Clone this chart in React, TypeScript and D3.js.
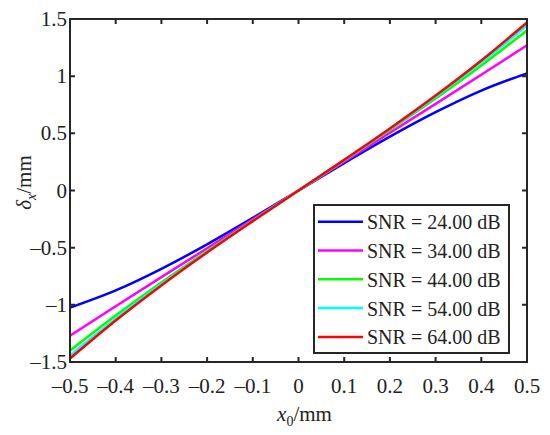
import * as d3 from "d3";
import React, { useEffect, useRef } from "react";

const width = 550;
const height = 435;
const margin = { top: 19, right: 23, bottom: 73, left: 70 };

const xValues = [-0.5, -0.4, -0.3, -0.2, -0.1, 0, 0.1, 0.2, 0.3, 0.4, 0.5];
const snr24 = [-1.025, -0.874, -0.685, -0.471, -0.24, 0, 0.24, 0.471, 0.685, 0.874, 1.025];
const snr34 = [-1.27, -1.013, -0.758, -0.505, -0.252, 0, 0.252, 0.505, 0.758, 1.013, 1.27];
const snr44 = [-1.4, -1.094, -0.805, -0.53, -0.263, 0, 0.263, 0.53, 0.805, 1.094, 1.4];
const snr54 = [-1.445, -1.121, -0.821, -0.538, -0.266, 0, 0.266, 0.538, 0.821, 1.121, 1.445];
const snr64 = [-1.47, -1.137, -0.83, -0.542, -0.268, 0, 0.268, 0.542, 0.83, 1.137, 1.47];

const seriesNames = ["SNR = 24.00 dB", "SNR = 34.00 dB", "SNR = 44.00 dB", "SNR = 54.00 dB", "SNR = 64.00 dB"];
const seriesValues = [snr24, snr34, snr44, snr54, snr64];
const seriesColors = ["#0000ff", "#ff00ff", "#00ff00", "#00ffff", "#ff0000"];

const xTicks = [-0.5, -0.4, -0.3, -0.2, -0.1, 0, 0.1, 0.2, 0.3, 0.4, 0.5];
const yTicks = [-1.5, -1, -0.5, 0, 0.5, 1, 1.5];

const font = "'Palatino Linotype', 'Book Antiqua', Palatino, 'Liberation Serif', serif";
const axisColor = "#262626";

const fmt = (v: number) => {
    const s = String(Math.abs(Math.round(v * 10) / 10));
    return v < 0 ? "\u2013" + s : s;
};

const App: React.FC = () => {
    const wrapper = useRef<SVGSVGElement>(null);

    useEffect(() => {
        if (!wrapper.current) return;
        const svg = d3.select(wrapper.current);
        svg.selectAll("*").remove();

        const x = d3.scaleLinear().domain([-0.5, 0.5]).range([margin.left, width - margin.right]);
        const y = d3.scaleLinear().domain([-1.5, 1.5]).range([height - margin.bottom, margin.top]);
        const [x0, x1] = x.range();
        const [y0, y1] = y.range();

        const line = d3
            .line<[number, number]>()
            .x((d) => x(d[0]))
            .y((d) => y(d[1]))
            .curve(d3.curveMonotoneX);

        const plot = svg.append("g");
        seriesValues.forEach((vals, i) => {
            plot.append("path")
                .datum(xValues.map((xv, j) => [xv, vals[j]] as [number, number]))
                .attr("d", line)
                .attr("fill", "none")
                .attr("stroke", seriesColors[i])
                .attr("stroke-width", 2.5);
        });

        const tl = 5;
        const axes = svg.append("g").attr("stroke", axisColor).attr("stroke-width", 2);
        axes.selectAll(null)
            .data(xTicks)
            .enter()
            .append("path")
            .attr("d", (d) => `M${x(d)},${y0}v${-tl}M${x(d)},${y1}v${tl}`);
        axes.selectAll(null)
            .data(yTicks)
            .enter()
            .append("path")
            .attr("d", (d) => `M${x0},${y(d)}h${tl}M${x1},${y(d)}h${-tl}`);
        axes.append("rect")
            .attr("x", x0)
            .attr("y", y1)
            .attr("width", x1 - x0)
            .attr("height", y0 - y1)
            .attr("fill", "none");

        const labels = svg.append("g")
            .style("font-family", font)
            .style("font-size", "21px")
            .attr("fill", "#222");

        labels.selectAll(null)
            .data(xTicks)
            .enter()
            .append("text")
            .attr("x", (d) => x(d))
            .attr("y", y0 + 31)
            .attr("text-anchor", "middle")
            .text(fmt);

        labels.selectAll(null)
            .data(yTicks)
            .enter()
            .append("text")
            .attr("x", x0 - 3)
            .attr("y", (d) => y(d) + 7)
            .attr("text-anchor", "end")
            .text(fmt);

        const xl = labels.append("text")
            .attr("x", (x0 + x1) / 2 + 6)
            .attr("y", 421)
            .attr("text-anchor", "middle");
        xl.append("tspan").style("font-style", "italic").text("x");
        xl.append("tspan").attr("dy", 5).style("font-size", "14px").text("0");
        xl.append("tspan").attr("dy", -5).text("/mm");

        const yl = labels.append("text")
            .attr("transform", `translate(31, ${(y0 + y1) / 2 - 8}) rotate(-90)`)
            .attr("text-anchor", "middle");
        yl.append("tspan").style("font-style", "italic").text("\u03b4");
        yl.append("tspan").attr("dy", 5).style("font-size", "14px").style("font-style", "italic").text("x");
        yl.append("tspan").attr("dy", -5).text("/mm");

        const legend = svg.append("g");
        legend.append("rect")
            .attr("x", 314)
            .attr("y", 205)
            .attr("width", 195)
            .attr("height", 148)
            .attr("fill", "#fff")
            .attr("stroke", axisColor)
            .attr("stroke-width", 2);

        const rowH = 28.8;
        const rows = legend.selectAll(null)
            .data(seriesNames)
            .enter()
            .append("g")
            .attr("transform", (_, i) => `translate(0, ${221.7 + i * rowH})`);
        rows.append("line")
            .attr("x1", 318)
            .attr("x2", 363)
            .attr("stroke", (_, i) => seriesColors[i])
            .attr("stroke-width", 2.5);
        rows.append("text")
            .attr("x", 367)
            .attr("y", 7.5)
            .style("font-family", font)
            .style("font-size", "20px")
            .attr("fill", "#222")
            .text((d) => d);
    }, []);

    return (
        <svg
            ref={wrapper}
            width={width}
            height={height}
            style={{ position: "absolute", left: 0, top: 0, background: "#fff" }}
        />
    );
};

export default App;
